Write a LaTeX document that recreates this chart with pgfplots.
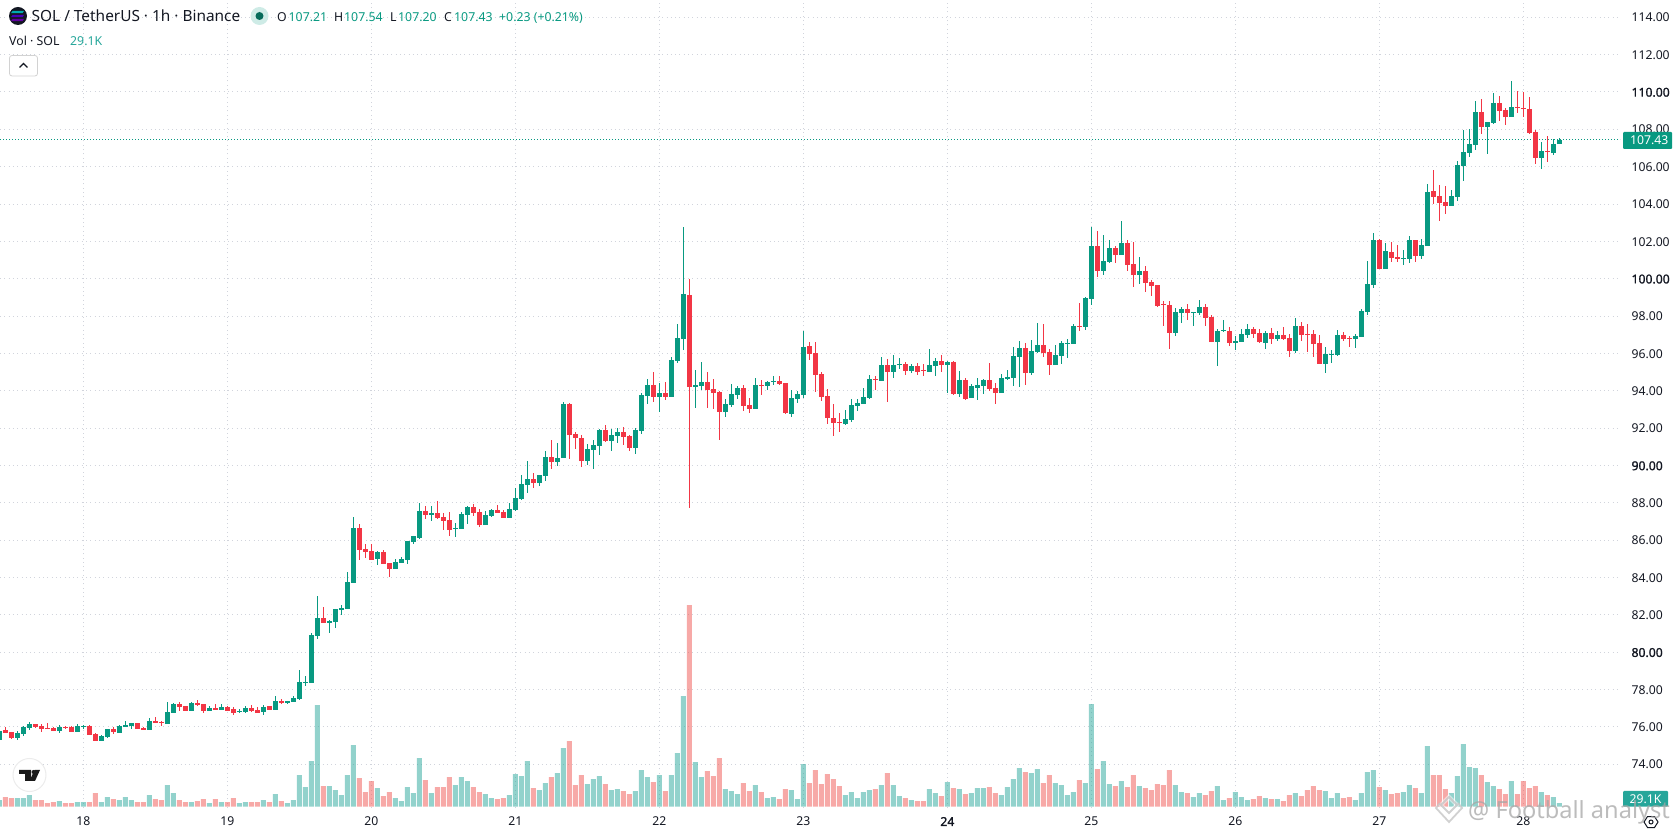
\documentclass[border=0pt]{standalone}
\usepackage{fontspec}
\setmainfont{Noto Sans}
\newfontfamily\tickbold[FakeBold=1.4]{Noto Sans}
\usepackage{pgfplots}
\usepackage{pgfplotstable}
\pgfplotsset{compat=1.18}
\definecolor{upc}{HTML}{089981}
\definecolor{downc}{HTML}{F23645}
\definecolor{volup}{HTML}{26A69A}
\definecolor{voldown}{HTML}{EF5350}
\definecolor{gridc}{HTML}{D1D4DC}
\definecolor{inkc}{HTML}{131722}
\pgfplotstableread{
t o h l c v
-14 75.30 75.78 75.30 75.78 53
-11 75.41 75.78 75.30 75.66 69
-10 75.62 76.05 75.52 76.00 69
-9 75.94 76.27 75.84 76.16 93
-4 75.78 76.11 75.68 76.00 45
-1 75.73 76.16 75.73 76.05 37
0 76.00 76.11 75.89 76.05 37
3 75.25 75.57 75.25 75.52 37
4 75.46 75.89 75.41 75.89 77
6 75.68 76.11 75.68 76.05 53
7 76.00 76.32 76.00 76.11 77
8 76.05 76.21 75.89 76.21 53
11 75.84 76.48 75.84 76.32 93
14 76.16 77.34 76.16 76.80 173
15 76.75 77.28 76.75 77.23 109
18 76.86 77.34 76.86 77.28 37
21 76.86 77.12 76.86 77.02 29
23 76.91 77.23 76.91 77.07 37
26 76.80 76.96 76.75 76.86 29
27 76.80 77.12 76.75 77.02 37
30 76.80 77.18 76.64 77.07 53
32 76.91 77.66 76.91 77.39 101
34 77.28 77.39 77.23 77.39 29
35 77.34 77.66 77.34 77.55 53
36 77.50 79.05 77.44 78.41 253
37 78.35 78.73 78.19 78.41 157
38 78.35 81.03 78.35 80.92 365
39 80.87 83.01 80.71 81.83 813
41 81.57 81.73 81.03 81.67 165
42 81.62 82.32 81.30 82.32 133
43 82.26 82.53 81.99 82.37 93
44 82.32 84.30 82.32 83.76 253
45 83.71 87.24 83.71 86.65 493
49 84.99 85.42 84.67 85.37 149
52 84.46 84.99 84.46 84.83 69
53 84.78 85.10 84.78 84.99 45
54 84.94 85.96 84.73 85.96 157
55 85.90 86.23 85.80 86.23 109
56 86.12 87.99 86.07 87.56 389
58 87.35 87.83 87.03 87.46 109
62 86.60 86.92 86.17 86.65 173
63 86.60 87.51 86.60 87.40 237
64 87.35 87.83 86.87 87.78 205
67 86.81 87.56 86.81 87.35 101
68 87.30 87.67 87.24 87.62 69
71 87.19 87.99 87.19 87.67 93
72 87.62 88.80 87.56 88.26 261
73 88.21 89.49 88.15 89.01 245
74 88.96 90.24 88.53 89.28 365
76 89.06 89.49 88.90 89.49 133
77 89.44 90.78 89.17 90.46 189
79 90.19 91.21 89.97 90.40 269
80 90.40 93.40 90.40 93.29 469
84 90.24 91.15 90.03 90.88 181
85 90.83 91.37 89.81 91.10 221
86 91.05 91.96 90.56 91.90 245
88 91.31 91.96 90.78 91.63 133
89 91.58 92.01 91.21 91.80 141
92 90.94 92.01 90.62 91.90 125
93 91.85 93.88 91.69 93.78 293
94 93.72 94.63 93.29 94.31 237
96 93.67 94.42 92.85 93.88 253
98 93.67 95.81 93.67 95.65 253
99 95.60 97.58 95.49 96.83 429
100 96.77 102.77 96.19 99.18 885
102 94.20 95.11 93.08 94.31 357
103 94.26 95.54 94.04 94.47 237
107 92.87 93.56 92.60 93.29 141
108 93.24 94.37 93.13 93.83 125
109 93.78 94.26 93.56 94.15 101
112 93.03 94.69 93.03 94.31 173
114 94.26 94.52 94.04 94.47 69
115 94.47 94.79 94.31 94.52 77
118 92.76 94.04 92.60 93.61 133
119 93.56 93.99 93.35 93.83 61
120 93.78 97.20 93.61 96.35 341
127 92.22 92.97 92.17 92.49 93
128 92.44 93.56 92.33 93.24 117
129 93.19 93.56 92.92 93.35 69
130 93.29 94.15 93.29 93.67 117
131 93.62 94.85 93.56 94.63 133
133 94.53 95.81 94.53 95.38 173
135 95.01 95.92 94.69 95.38 173
136 95.38 95.76 95.17 95.44 85
138 95.06 95.44 94.95 95.33 53
141 95.01 96.24 95.01 95.38 141
142 95.33 95.76 94.79 95.60 109
144 95.38 95.60 93.88 95.54 197
146 93.83 95.06 93.67 94.58 141
148 93.62 94.37 93.62 94.26 109
149 94.15 94.69 93.51 94.31 149
150 94.26 94.63 93.83 94.58 149
153 93.88 94.90 93.88 94.69 93
154 94.63 95.11 94.58 94.74 157
155 94.69 96.35 94.26 95.86 221
156 95.81 96.67 94.20 96.29 309
158 94.95 96.72 94.85 96.13 269
159 96.08 97.63 96.02 96.45 301
162 95.38 96.45 95.38 95.92 189
163 95.86 96.67 95.44 96.56 173
164 96.51 96.77 95.76 96.56 93
165 96.51 97.58 96.51 97.47 117
167 97.42 99.02 97.26 98.97 189
168 98.92 102.77 98.60 101.75 821
170 100.42 102.34 100.20 100.95 365
171 100.90 102.08 100.84 101.65 181
173 101.27 103.09 101.27 101.91 205
176 100.20 101.17 99.72 100.42 165
182 97.10 98.43 96.93 98.22 173
183 98.17 98.49 97.63 98.38 117
185 98.17 98.22 97.47 98.22 77
186 98.17 98.86 98.06 98.49 109
189 96.61 97.31 95.33 97.21 165
190 97.21 97.79 97.15 97.26 53
192 96.56 96.94 96.17 96.67 117
193 96.61 97.31 96.61 97.04 77
194 96.99 97.58 96.83 97.31 53
197 96.56 97.21 96.24 97.10 69
199 96.78 97.21 96.67 96.99 61
202 96.13 97.90 96.02 97.47 109
207 95.44 96.35 94.95 95.97 125
208 95.92 96.17 95.49 95.97 69
209 95.92 97.26 95.86 96.99 109
212 96.78 97.04 96.29 96.94 53
213 96.88 98.38 96.88 98.27 109
214 98.22 100.95 98.06 99.72 277
215 99.67 102.45 99.51 102.08 293
217 100.52 101.92 100.52 101.49 133
220 101.06 101.54 100.74 101.11 117
221 101.06 102.29 100.84 102.08 173
223 101.22 102.13 101.06 101.81 109
224 101.75 105.07 101.75 104.65 485
228 103.90 104.75 103.90 104.43 109
229 104.38 106.31 104.16 106.09 245
230 106.04 107.97 105.24 106.79 501
231 106.73 108.02 106.52 107.22 317
232 107.16 109.52 106.89 108.93 309
234 108.13 108.39 106.68 108.39 197
235 108.34 109.95 108.29 109.41 165
238 108.66 110.59 108.66 109.20 205
243 106.47 107.32 105.88 106.84 117
245 106.73 107.48 106.63 107.22 77
246 107.21 107.54 107.20 107.43 29
}\upcandles
\pgfplotstableread{
t o h l c v
-13 75.84 75.98 75.68 75.68 77
-12 75.73 75.73 75.37 75.41 69
-8 76.16 76.16 75.94 76.00 53
-7 76.05 76.16 75.73 75.89 53
-6 75.94 76.19 75.89 75.89 29
-5 75.94 76.00 75.78 75.78 37
-3 76.02 76.05 75.89 75.94 29
-2 76.00 76.05 75.73 75.73 29
1 76.05 76.09 75.57 75.57 37
2 75.62 75.68 75.25 75.25 109
5 75.89 76.00 75.62 75.73 61
9 76.21 76.21 75.89 75.89 37
10 75.94 76.00 75.84 75.84 37
12 76.32 76.53 76.21 76.21 61
13 76.27 76.32 76.05 76.21 53
16 77.23 77.34 76.86 77.07 53
17 77.10 77.10 76.86 76.86 37
19 77.28 77.44 77.12 77.18 45
20 77.23 77.23 76.75 76.86 61
22 77.02 77.23 76.91 76.91 61
24 77.07 77.12 76.86 76.86 37
25 76.96 77.07 76.64 76.75 69
28 77.02 77.18 76.80 76.86 37
29 76.91 77.07 76.75 76.75 37
31 77.12 77.12 76.91 76.91 37
33 77.39 77.50 77.23 77.28 45
40 81.83 82.42 81.57 81.57 165
46 86.65 86.87 84.94 85.48 229
47 85.53 85.80 85.05 85.37 117
48 85.42 85.80 84.94 84.94 205
50 85.37 85.48 84.73 84.73 85
51 84.78 84.78 84.03 84.46 117
57 87.56 87.83 87.14 87.35 213
59 87.46 88.10 87.14 87.19 157
60 87.24 87.46 86.55 87.03 157
61 87.08 87.51 86.23 86.55 237
65 87.78 87.94 87.30 87.46 157
66 87.51 87.67 86.71 86.81 117
69 87.62 87.89 87.46 87.46 61
70 87.51 87.62 87.19 87.19 69
75 89.28 89.60 88.80 89.06 149
78 90.46 91.37 89.81 90.19 237
81 93.29 93.35 90.35 91.63 525
82 91.69 91.80 90.88 91.47 173
83 91.47 91.63 89.92 90.24 253
87 91.90 92.17 91.26 91.31 181
90 91.80 92.06 91.10 91.53 125
91 91.58 91.63 90.78 90.94 101
95 94.31 95.01 93.40 93.67 197
97 93.88 94.47 93.51 93.67 125
101 99.13 99.99 87.73 94.20 1613
104 94.47 95.01 93.08 94.04 285
105 94.10 94.63 93.03 93.88 245
106 93.94 93.99 91.37 92.87 389
110 94.15 94.31 92.92 93.19 189
111 93.24 93.61 92.81 93.03 125
113 94.31 94.58 93.78 94.26 117
116 94.52 94.79 94.31 94.37 61
117 94.42 94.42 92.76 92.81 141
121 96.40 96.61 95.65 95.97 189
122 96.02 96.61 93.94 94.85 293
123 94.90 95.01 93.45 93.67 181
124 93.72 94.10 92.22 92.54 261
125 92.54 93.29 91.58 92.28 221
126 92.33 92.81 91.79 92.28 165
132 94.63 94.79 94.04 94.58 141
134 95.38 95.70 93.40 95.01 269
137 95.44 95.54 94.85 95.06 69
139 95.33 95.49 94.85 95.01 45
140 95.11 95.44 94.79 95.06 45
143 95.60 95.92 95.01 95.38 85
145 95.54 95.60 93.78 93.83 149
147 94.58 94.69 93.51 93.56 101
151 94.58 95.49 93.99 94.10 157
152 94.15 94.42 93.29 93.88 109
157 96.29 96.56 94.31 94.95 277
160 96.45 97.58 95.81 96.02 189
161 96.08 96.24 94.85 95.38 253
166 97.47 98.70 97.20 97.42 213
169 101.75 102.56 100.09 100.42 301
172 101.65 101.75 100.84 101.27 165
174 101.91 102.08 100.42 100.74 157
175 100.79 101.97 99.56 100.20 253
177 100.42 100.68 99.29 99.77 149
178 99.83 99.93 99.08 99.61 133
179 99.67 99.67 98.49 98.54 181
180 98.65 98.81 97.47 98.60 173
181 98.60 98.81 96.24 97.10 293
184 98.38 98.65 97.79 98.17 109
187 98.49 98.65 97.47 97.90 93
188 97.95 98.06 96.61 96.61 125
191 97.21 97.42 96.40 96.56 69
195 97.31 97.42 96.83 97.04 61
196 97.10 97.31 96.56 96.61 85
198 97.10 97.36 96.51 96.78 61
200 96.99 97.42 96.72 96.78 45
201 96.83 97.04 95.81 96.13 93
203 97.47 97.69 96.67 96.99 85
204 97.04 97.58 96.08 96.99 133
205 97.04 97.26 95.81 96.51 165
206 96.56 96.99 95.44 95.44 133
210 96.99 97.15 96.67 96.78 69
211 96.83 96.94 96.35 96.78 77
216 102.08 102.13 100.52 100.52 157
218 101.43 101.97 100.90 101.11 101
219 101.17 101.81 100.90 101.06 109
222 102.08 102.08 100.90 101.22 149
225 104.70 105.82 104.00 104.38 253
226 104.43 105.02 103.09 104.06 253
227 104.11 104.97 103.44 103.90 141
233 108.93 109.63 107.75 108.13 253
236 109.41 109.79 108.45 108.98 141
237 109.04 109.14 108.23 108.66 101
239 109.20 110.05 108.88 109.14 101
240 109.14 110.00 108.66 109.09 205
241 109.09 109.73 107.75 107.80 149
242 107.86 107.97 106.14 106.47 165
244 106.84 107.64 106.25 106.79 93
}\downcandles
\pgfplotsset{
  wick/.style={draw=none,mark=none,forget plot,
    error bars/.cd,y dir=both,y explicit,error mark=none,
    error bar style={draw=#1,line width=1pt,solid}},
  body/.style={draw=none,mark=none,forget plot,
    error bars/.cd,y dir=plus,y explicit,error mark=none,
    error bar style={draw=#1,line width=5pt,solid}},
}
\begin{document}
\begin{tikzpicture}
\path[use as bounding box] (0pt,-27pt) rectangle (1678pt,808pt);
\begin{axis}[
  at={(0pt,0pt)},anchor=south west,
  scale only axis,width=1620pt,height=808pt,
  xmin=-13.889,xmax=256.11,ymin=71.66,ymax=114.926,
  axis line style={draw=none},
  major tick length=0pt,
  tick style={draw=none},
  xtick pos=bottom,ytick pos=right,
  xtick={0,24,48,72,96,120,144,168,192,216,240},
  xticklabels={18,19,20,21,22,23,{\tickbold 24},25,26,27,28},
  ytick={74,76,78,80,82,84,86,88,90,92,94,96,98,100,102,104,106,108,110,112,114},
  yticklabels={74.00,76.00,78.00,{\tickbold 80.00},82.00,84.00,86.00,88.00,{\tickbold 90.00},92.00,94.00,96.00,98.00,{\tickbold 100.00},102.00,104.00,106.00,108.00,{\tickbold 110.00},112.00,114.00},
  tick label style={font=\fontsize{12.2}{15}\selectfont,text=inkc},
  xticklabel style={anchor=center,yshift=-13.5pt},
  yticklabel style={anchor=west,xshift=8pt,yshift=-0.3pt},
  grid=major,
  grid style={draw=gridc,line width=1pt,dash pattern=on 1pt off 3.3pt},
]
\addplot[draw=upc,line width=1pt,dash pattern=on 1pt off 2pt,forget plot] coordinates {(-13.889,107.43) (256.11,107.43)};
\addplot[wick=upc] table[x=t,y=c,y error plus expr=\thisrow{h}-\thisrow{c},y error minus expr=\thisrow{c}-\thisrow{l}] {\upcandles};
\addplot[wick=downc] table[x=t,y=c,y error plus expr=\thisrow{h}-\thisrow{c},y error minus expr=\thisrow{c}-\thisrow{l}] {\downcandles};
\addplot[body=upc] table[x=t,y=o,y error plus expr=\thisrow{c}-\thisrow{o}] {\upcandles};
\addplot[body=downc] table[x=t,y=c,y error plus expr=\thisrow{o}-\thisrow{c}] {\downcandles};
\end{axis}
\begin{axis}[
  at={(0pt,0pt)},anchor=south west,
  scale only axis,width=1620pt,height=808pt,
  xmin=-13.889,xmax=256.11,ymin=-10.4,ymax=6453.6,
  hide axis,
]
\addplot[ybar,bar width=5pt,bar shift=0pt,fill=volup,fill opacity=.5,draw=none] table[x=t,y=v] {\upcandles};
\addplot[ybar,bar width=5pt,bar shift=0pt,fill=voldown,fill opacity=.5,draw=none] table[x=t,y=v] {\downcandles};
\end{axis}
\begin{scope}[x=1pt,y=-1pt,yshift=808pt,
  hd/.style={inner sep=0pt,anchor=mid west,font=\fontsize{15.4}{17}\selectfont,text=inkc},
  ohlc/.style={inner sep=0pt,anchor=mid west,font=\fontsize{12.3}{15}\selectfont,text=inkc},
  val/.style={inner sep=0pt,anchor=mid west,font=\fontsize{12.3}{15}\selectfont,text=upc}]
% symbol logo
\fill[inkc] (18,16) circle (9);
\fill[cyan!60!green] (12.5,11) -- (24,11) -- (22.5,13.2) -- (11,13.2) -- cycle;
\fill[violet!55!blue] (12.5,15) -- (24,15) -- (22.5,17.2) -- (11,17.2) -- cycle;
\fill[violet!75!blue] (12.5,19) -- (24,19) -- (22.5,21.2) -- (11,21.2) -- cycle;
\node[hd] at (31.5,19) {SOL / TetherUS · 1h · Binance};
\fill[upc!20] (259.5,16) circle (9);
\fill[upc!70!black] (259.5,16) circle (4);
\node[ohlc] at (277,18.5) {O};
\node[val] at (288.5,18.5) {107.21};
\node[ohlc] at (334,18.5) {H};
\node[val] at (344,18.5) {107.54};
\node[ohlc] at (390,18.5) {L};
\node[val] at (398,18.5) {107.20};
\node[ohlc] at (444,18.5) {C};
\node[val] at (454,18.5) {107.43};
\node[val] at (499,18.5) {+0.23 (+0.21\%)};
\node[ohlc] at (9,42.5) {Vol · SOL};
\node[inner sep=0pt,anchor=mid west,font=\fontsize{12.3}{15}\selectfont,text=volup] at (70,42.5) {29.1K};
\filldraw[fill=white,draw=gray!35,line width=.8pt,rounded corners=2.5pt] (9.5,55.5) rectangle (37.5,76);
\draw[inkc,line width=1.1pt] (19.5,67.5) -- (23.5,63.5) -- (27.5,67.5);
% price tags
\fill[upc,rounded corners=1pt] (1623,132) rectangle (1672,149);
\node[inner sep=0pt,anchor=mid west,font=\fontsize{12.2}{15}\selectfont,text=white] at (1630,142) {107.43};
\fill[volup,rounded corners=1pt] (1623,791) rectangle (1668,806.7);
\node[inner sep=0pt,anchor=center,font=\fontsize{12.2}{15}\selectfont,text=white] at (1645.5,799) {29.1K};
% TradingView mark
\filldraw[fill=white,draw=gray!15,line width=1pt] (29.5,775) circle (16.5);
\fill[black!90] (19,770) -- (31,770) -- (31,781) -- (25,781) -- (25,774) -- (19,774) -- cycle;
\fill[black!90] (33.5,772) circle (2);
\fill[black!90] (40,770) -- (35,781) -- (29.5,781) -- (34.5,770) -- cycle;
% settings icon
\draw[inkc,line width=1pt] (1644,822) -- (1647.5,816.5) -- (1654.5,816.5) -- (1658,822) -- (1654.5,827.5) -- (1647.5,827.5) -- cycle;
\draw[inkc,line width=1pt] (1651,822) circle (2);
% watermark
\draw[white,opacity=.55,line width=4pt] (1449,797) -- (1457,805) -- (1449,813) -- (1441,805) -- cycle;
\draw[gray!45,opacity=.8,line width=1.8pt] (1449,797) -- (1457,805) -- (1449,813) -- (1441,805) -- cycle;
\draw[gray!45,opacity=.8,line width=1.8pt] (1440,803) -- (1436,808) -- (1449,822) -- (1462,808) -- (1458,803);
\node[inner sep=0pt,anchor=mid west,font=\fontsize{23.6}{26}\selectfont,text=gray!70,opacity=.75] at (1468,816) {@ Football analyst};
\end{scope}
\end{tikzpicture}
\end{document}
